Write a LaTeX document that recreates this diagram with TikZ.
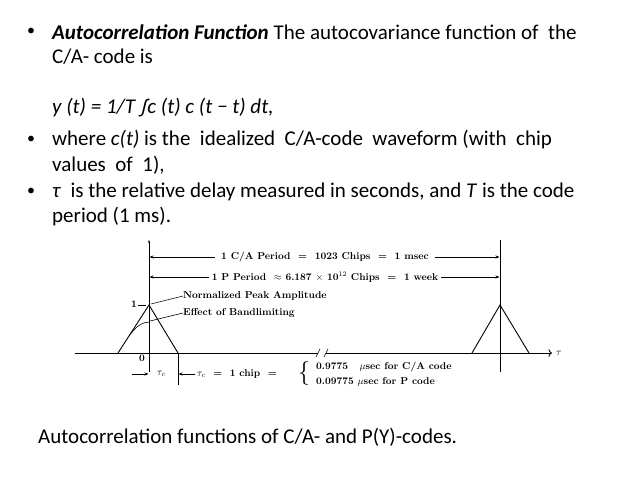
\documentclass[tikz,border=0pt]{standalone}
\usepackage{fontspec}
\setmainfont{Carlito}
\newfontfamily\dfont{Latin Modern Roman}
\usetikzlibrary{arrows.meta}
\begin{document}
\begin{tikzpicture}[x=1pt,y=-1pt,
 txt/.style={anchor=west,inner sep=0pt,font=\fontsize{21}{24}\selectfont},
 dt/.style={anchor=west,inner sep=0pt,font=\dfont\bfseries\fontsize{10}{12}\selectfont},
 ln/.style={line width=0.9pt},
 ar/.style={line width=0.6pt,-{Stealth[length=4pt,width=3pt]}}]
\useasboundingbox (0,0) rectangle (638,478);
% bullets
\node[txt,font=\fontsize{16}{20}\selectfont] (b1) at (27,32) {•};
\node[txt] (t1) at (52,32) {\textbf{\textit{Autocorrelation Function}} The autocovariance function of\ \ the};
\node[txt] (t1b) at (52,57) {C/A- code is};
\node[txt] (t1c) at (52,108) {\textit{y (t) = 1/T ∫c (t) c (t − t) dt,}};
\node[txt,font=\fontsize{16}{20}\selectfont] (b2) at (27,140) {•};
\node[txt] (t2) at (52,140) {where \textit{c(t)} is the\ \ idealized\ \ C/A-code\ \ waveform (with\ \ chip};
\node[txt] (t2b) at (52,165) {values\ \ of\ \ 1),};
\node[txt,font=\fontsize{16}{20}\selectfont] (b3) at (27,192) {•};
\node[txt] (t3) at (52,192) {\textit{τ}\ \ is the relative delay measured in seconds, and \textit{T} is the code};
\node[txt] (t3b) at (52,217) {period (1 ms).};
\node[txt] (cap) at (38,437) {Autocorrelation functions of C/A- and P(Y)-codes.};
% axes
\coordinate (ax0) at (75,353); \coordinate (ax1) at (552,353);
\draw[ln] (ax0) -- (318,353);
\draw[ln,->] (326,353) -- (ax1);
\draw[line width=0.6pt] (316,357) -- (320,349) (324,357) -- (328,349);
\node[dt] (tau) at (556,353) {$\tau$};
\coordinate (v0) at (149,240); \coordinate (v1) at (149,372);
\draw[line width=0.6pt,-{Stealth[length=3pt]}] (v1) -- (v0);
\draw[line width=0.6pt] (500,240) -- (500,372);
\draw[line width=0.6pt] (178,353) -- (178,385);
% triangles
\draw[ln] (118,353) -- (149,305) -- (178,353);
\draw[ln] (472,353) -- (500,305) -- (529,353);
\draw[line width=0.6pt] (129,336) .. controls (137,325) and (143,322) .. (150,322);
\node[dt] (one) at (131,304) {1};
\draw[line width=0.5pt] (138,305) -- (146,305);
\node[dt] (zero) at (139,358) {0};
% period arrows
\node[dt,anchor=center] (p1) at (325,257) {1 C/A Period \ = \ 1023 Chips \ = \ 1 msec};
\draw[ar] (p1.west) ++(-6,0) -- (149.5,257);
\draw[ar] (p1.east) ++(6,0) -- (499.5,257);
\node[dt,anchor=center] (p2) at (325,277) {1 P Period \ $\approx$ 6.187 $\times$ 10$^{12}$ Chips \ = \ 1 week};
\draw[ar] (p2.west) ++(-3,0) -- (149.5,277);
\draw[ar] (p2.east) ++(3,0) -- (499.5,277);
% labels
\node[dt] (npa) at (183,296) {Normalized Peak Amplitude};
\draw[line width=0.6pt] (151,304) -- (npa.west);
\node[dt] (eob) at (183,313) {Effect of Bandlimiting};
\draw[line width=0.6pt] (150,321) -- (eob.west);
% bottom
\draw[ar] (132,374) -- (148.5,374);
\node[dt] (tc) at (157,374) {$\tau_c$};
\draw[ar] (195,374) -- (178.5,374);
\node[dt] (tc2) at (197,374) {$\tau_c$ \ = \ 1 chip \ =};
\node[dt,font=\dfont\fontsize{24}{24}\selectfont] (br) at (298,374) {\{};
\node[dt] (c1) at (316,367) {0.9775 \ \ $\mu$sec for C/A code};
\node[dt] (c2) at (316,382) {0.09775 $\mu$sec for P code};
\end{tikzpicture}
\end{document}
